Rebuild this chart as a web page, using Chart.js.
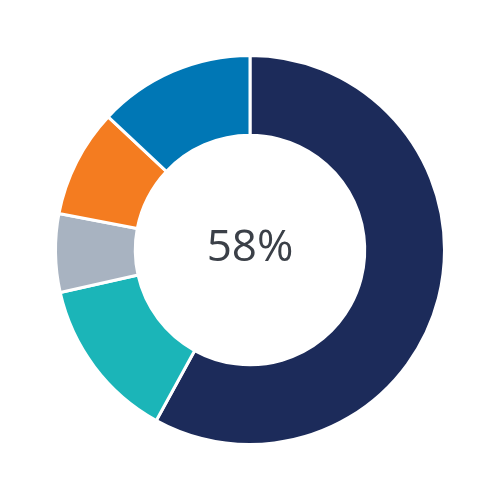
<!DOCTYPE html>
<html>
<head>
<meta charset="utf-8">
<script src="https://cdn.jsdelivr.net/npm/chart.js@4"></script>
<style>
html,body{margin:0;padding:0;background:#fff;}
#wrap{width:500px;height:500px;}
</style>
</head>
<body>
<div id="wrap"><canvas id="c" width="500" height="500"></canvas></div>
<script>
const categories = ["Navy", "Teal", "Grey", "Orange", "Blue"];
const values = [58, 13.5, 6.5, 9, 13];
const colors = ["#1c2b5a", "#1bb5b8", "#a8b3c1", "#f47c20", "#0077b5"];
const centerLabel = "58%";

const centerText = {
  id: 'centerText',
  afterDraw(chart) {
    const meta = chart.getDatasetMeta(0);
    if (!meta.data.length) return;
    const {x, y} = meta.data[0];
    const ctx = chart.ctx;
    ctx.save();
    ctx.font = '44px "Open Sans"';
    ctx.fillStyle = '#3b4048';
    ctx.textAlign = 'center';
    ctx.textBaseline = 'middle';
    ctx.fillText(centerLabel, x, y - 2);
    ctx.restore();
  }
};

function draw() {
  new Chart(document.getElementById('c'), {
    type: 'doughnut',
    data: {
      labels: categories,
      datasets: [{
        data: values,
        backgroundColor: colors,
        borderColor: '#ffffff',
        borderWidth: 3,
        hoverOffset: 0
      }]
    },
    options: {
      responsive: false,
      animation: false,
      radius: 194.5,
      cutout: '59%',
      plugins: {
        legend: {display: false},
        tooltip: {enabled: false}
      }
    },
    plugins: [centerText]
  });
}
if (document.fonts && document.fonts.load) {
  document.fonts.load('44px "Open Sans"').then(draw, draw);
} else {
  draw();
}
</script>
</body>
</html>
